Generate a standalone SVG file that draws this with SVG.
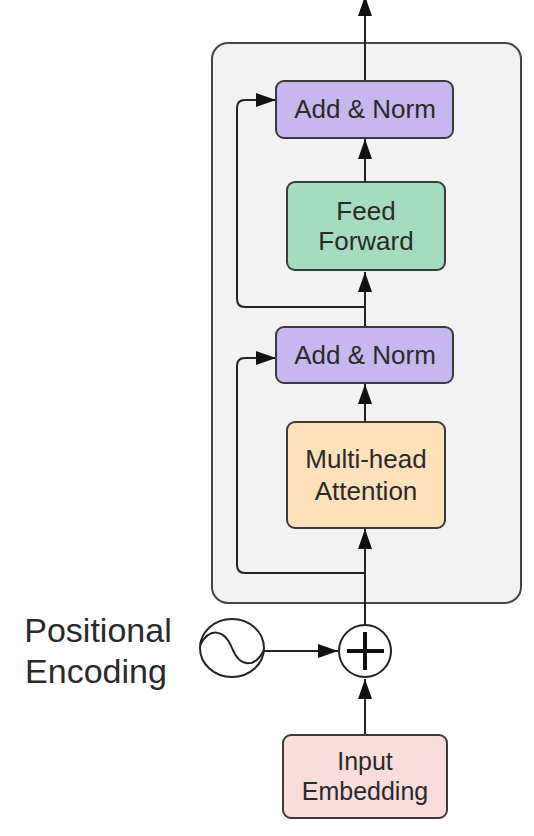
<svg xmlns="http://www.w3.org/2000/svg" width="534" height="836" viewBox="0 0 534 836">
<style>
.box{stroke:#3a3a3a;stroke-width:2}
.t{font-family:"Liberation Sans",Arial,sans-serif;font-size:26px;fill:#2a2a2a;text-anchor:middle}
.big{font-family:"Liberation Sans",Arial,sans-serif;font-size:34px;fill:#2a2a2a;text-anchor:middle}
.ln{fill:none;stroke:#222;stroke-width:2}
</style>
<defs>
<marker id="ah" viewBox="0 0 20 14" refX="20" refY="7" markerWidth="20" markerHeight="14" markerUnits="userSpaceOnUse" orient="auto">
<path d="M0,0 L20,7 L0,14 Z" fill="#111"/>
</marker>
</defs>
<rect width="534" height="836" fill="#fff"/>
<g id="encoder-block">
<rect x="212" y="43" width="309" height="560" rx="16" fill="#f2f2f2" stroke="#444" stroke-width="2"/>
</g>
<g id="connectors">
<line class="ln" x1="365" y1="81" x2="365" y2="-4" marker-end="url(#ah)"/>
<line class="ln" x1="365" y1="182" x2="365" y2="139" marker-end="url(#ah)"/>
<line class="ln" x1="365" y1="327" x2="365" y2="272" marker-end="url(#ah)"/>
<line class="ln" x1="365" y1="422" x2="365" y2="384" marker-end="url(#ah)"/>
<line class="ln" x1="365" y1="625" x2="365" y2="529" marker-end="url(#ah)"/>
<line class="ln" x1="365" y1="735" x2="365" y2="679" marker-end="url(#ah)"/>
<line class="ln" x1="264" y1="651" x2="338" y2="651" marker-end="url(#ah)"/>
<path class="ln" d="M365,307 H245 Q237,307 237,299 V108 Q237,100 245,100 H276" marker-end="url(#ah)"/>
<path class="ln" d="M365,573 H245 Q237,573 237,565 V366 Q237,358 245,358 H276" marker-end="url(#ah)"/>
</g>
<g id="add-norm-top">
<rect class="box" x="276" y="81" width="177" height="57" rx="8" fill="#c6b8ef"/>
<text class="t" x="365" y="118">Add &amp; Norm</text>
</g>
<g id="feed-forward">
<rect class="box" x="287" y="182" width="158" height="88" rx="8" fill="#a5dbc0"/>
<text class="t" x="366" y="220">Feed</text>
<text class="t" x="366" y="250">Forward</text>
</g>
<g id="add-norm-bottom">
<rect class="box" x="276" y="327" width="177" height="56" rx="8" fill="#c6b8ef"/>
<text class="t" x="365" y="364">Add &amp; Norm</text>
</g>
<g id="multi-head-attention">
<rect class="box" x="287" y="422" width="158" height="106" rx="8" fill="#fde1ba"/>
<text class="t" x="366" y="468">Multi-head</text>
<text class="t" x="366" y="500">Attention</text>
</g>
<g id="add">
<circle cx="365" cy="651" r="26" fill="#fff" stroke="#222" stroke-width="2"/>
<line x1="347" y1="651" x2="384" y2="651" stroke="#111" stroke-width="4"/>
<line x1="365" y1="632" x2="365" y2="670" stroke="#111" stroke-width="4"/>
</g>
<g id="positional-encoding">
<ellipse cx="232" cy="648" rx="32" ry="29" fill="#fff" stroke="#222" stroke-width="2"/>
<path class="ln" d="M200,645 C209,628 224,628 232,648 C240,668 255,668 264,650"/>
<text class="big" x="98" y="642">Positional</text>
<text class="big" x="96" y="683">Encoding</text>
</g>
<g id="input-embedding">
<rect class="box" x="283" y="735" width="164" height="83" rx="8" fill="#f9dcdc"/>
<text class="t" x="365" y="770" style="font-size:25px">Input</text>
<text class="t" x="365" y="800" style="font-size:25px">Embedding</text>
</g>
</svg>
